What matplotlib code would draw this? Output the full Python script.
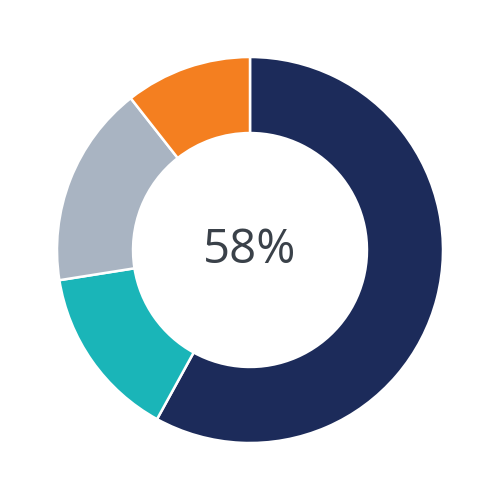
import numpy as np
import matplotlib as mpl
mpl.use('Agg')
import matplotlib.pyplot as plt

# Data (clockwise from 12 o'clock)
labels = ['Navy', 'Teal', 'Gray', 'Orange']
values = [58, 14.5, 16.9, 10.6]
colors = ['#1c2b5a', '#1ab5b8', '#a9b4c2', '#f47f20']
center_text = '58%'

fig = plt.figure(figsize=(5, 5), dpi=100)
ax = fig.add_axes([0, 0, 1, 1])
ax.pie(values, colors=colors, startangle=90, counterclock=False,
       radius=1.0,
       wedgeprops=dict(width=0.394, edgecolor='white', linewidth=1.8))
lim = 250 / 193
ax.set_xlim(-lim, lim)
ax.set_ylim(-lim, lim)
ax.set_aspect('equal')
ax.axis('off')
ax.text(0, 0, center_text, ha='center', va='center', fontsize=34,
        family='Open Sans', color='#3a4149')

plt.savefig('out.png', dpi=100, facecolor='white')
